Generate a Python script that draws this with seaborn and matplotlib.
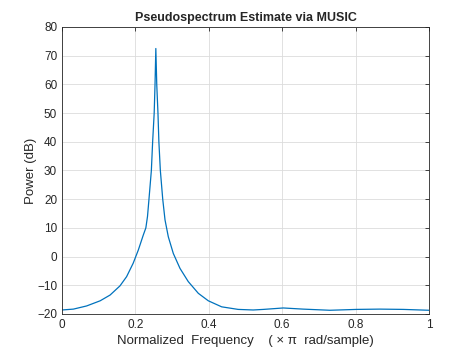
import matplotlib
matplotlib.use("Agg")
import matplotlib.pyplot as plt
import pandas as pd
import seaborn as sns

# normalized frequency (x pi rad/sample) and pseudospectrum (dB)
freq = [0.0, 0.031, 0.067, 0.104, 0.131, 0.158, 0.176, 0.194, 0.208, 0.2215,
        0.2285, 0.233, 0.237, 0.2435, 0.247, 0.2512, 0.2535, 0.2557,
        0.2582, 0.2615, 0.264, 0.268, 0.2745, 0.2807, 0.2897, 0.3033, 0.3215,
        0.344, 0.3715, 0.3987, 0.435, 0.480, 0.521, 0.549, 0.603, 0.657,
        0.73, 0.803, 0.866, 0.93, 1.0]
power_db = [-18.6, -18.3, -17.2, -15.4, -13.4, -10.2, -7.0, -2.3, 2.3, 7.5,
            10.0, 14.0, 20.0, 30.0, 40.0, 50.0, 60.0, 72.5,
            60.0, 50.0, 40.0, 30.0, 20.0, 12.8, 6.9, 1.1, -4.1,
            -8.7, -12.8, -15.4, -17.5, -18.4, -18.6, -18.4, -17.9, -18.3,
            -18.7, -18.4, -18.3, -18.4, -18.7]

x_ticks = [0, 0.2, 0.4, 0.6, 0.8, 1]
y_ticks = [-20, -10, 0, 10, 20, 30, 40, 50, 60, 70, 80]

df = pd.DataFrame({"freq": freq, "power": power_db})

sns.set_style("white")
plt.rcParams["font.family"] = ["Liberation Sans", "DejaVu Sans"]

fig = plt.figure(figsize=(4.74, 3.55), dpi=100)
ax = fig.add_axes([0.1308, 0.1155, 0.7742, 0.8085])

sns.lineplot(data=df, x="freq", y="power", ax=ax, color="#0072BD", linewidth=0.9)

ax.set_xlim(0, 1)
ax.set_ylim(-20, 80)
ax.set_xticks(x_ticks)
ax.set_xticklabels(["0", "0.2", "0.4", "0.6", "0.8", "1"])
ax.set_yticks(y_ticks)
ax.grid(True, color="#dcdcdc", linewidth=0.6)
ax.tick_params(direction="in", length=3, width=0.6, colors="#262626",
               labelsize=8.5, top=True, right=True)
for spine in ax.spines.values():
    spine.set_color("#262626")
    spine.set_linewidth(0.6)

ax.set_title("Pseudospectrum Estimate via MUSIC", fontsize=9, fontweight="bold", pad=4)
ax.set_xlabel("Normalized  Frequency    ( \u00d7 \u03c0  rad/sample)", fontsize=9.5, color="#262626", labelpad=3)
ax.set_ylabel("Power (dB)", fontsize=9.5, color="#262626", labelpad=0)

fig.savefig("out.png", dpi=100)
